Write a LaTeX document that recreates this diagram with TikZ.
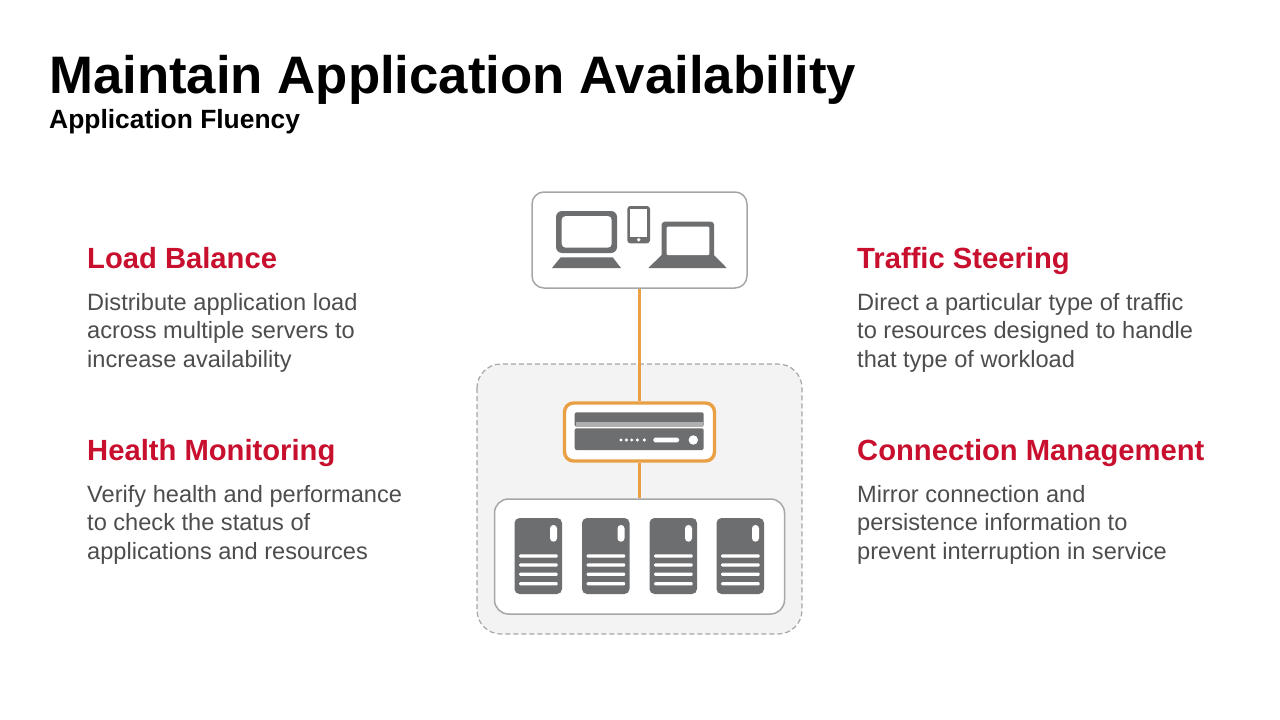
\documentclass[tikz,border=0pt]{standalone}
\usepackage{fontspec}
\setmainfont{Liberation Sans}
\definecolor{headred}{HTML}{C8102E}
\definecolor{bodygray}{HTML}{4D4D4D}
\definecolor{icongray}{HTML}{6D6E70}
\definecolor{edgegray}{HTML}{A6A6A6}
\definecolor{bandgray}{HTML}{B0B0B0}
\definecolor{linkorange}{HTML}{E9A044}
\definecolor{panelgray}{HTML}{F3F3F3}
\tikzset{
  title/.style={anchor=base west,inner sep=0pt,font=\fontsize{52.75}{54}\selectfont\bfseries,text=black},
  subtitle/.style={anchor=base west,inner sep=0pt,font=\fontsize{26.4}{26}\selectfont\bfseries,text=black},
  headline/.style={anchor=base west,inner sep=0pt,font=\fontsize{29.2}{29}\selectfont\bfseries,text=headred},
  bodytext/.style={anchor=north west,inner sep=0pt,align=left,text=bodygray,font=\fontsize{23.6}{28.6}\selectfont},
  whitebox/.style={draw=edgegray,line width=1.5pt,fill=white,rounded corners=12pt},
  link/.style={draw=linkorange,line width=3.2pt},
  icon/.style={fill=icongray,draw=none}
}
\begin{document}
\begin{tikzpicture}[x=1pt,y=-1pt]
\useasboundingbox (0,0) rectangle (1280,720);
\fill[white] (0,0) rectangle (1280,720);
\node[title] (ttl) at (49,93) {Maintain Application Availability};
\node[subtitle] (sub) at (49,128) {Application Fluency};

\node[headline] (h1) at (87,268) {Load Balance};
\node[bodytext] (b1) at (87,293) {Distribute application load\\across multiple servers to\\increase availability};
\node[headline] (h2) at (87,460) {Health Monitoring};
\node[bodytext] (b2) at (87,485) {Verify health and performance\\to check the status of\\applications and resources};
\node[headline] (h3) at (857,268) {Traffic Steering};
\node[bodytext] (b3) at (857,293) {Direct a particular type of traffic\\to resources designed to handle\\that type of workload};
\node[headline] (h4) at (857,460) {Connection Management};
\node[bodytext] (b4) at (857,485) {Mirror connection and\\persistence information to\\prevent interruption in service};

% panel
\draw[draw=edgegray,line width=1.2pt,dash pattern=on 5pt off 3pt,fill=panelgray,rounded corners=24pt] (477,364) rectangle (802,634);

% boxes
\node[whitebox,minimum width=215pt,minimum height=96pt,inner sep=0pt] (clients) at (639.5,240) {};
\node[whitebox,rounded corners=14pt,minimum width=290pt,minimum height=115pt,inner sep=0pt] (servers) at (639.5,556.5) {};
\node[draw=linkorange,line width=3.4pt,fill=white,rounded corners=9pt,minimum width=150pt,minimum height=58pt,inner sep=0pt] (adc) at (639.5,432) {};
\draw[link] (clients) -- (adc);
\draw[link] (adc) -- (servers);

% desktop
\fill[icon,rounded corners=6pt] (556,211) rectangle (617,253);
\fill[white,rounded corners=4pt] (561.7,216) rectangle (611.7,247.7);
\fill[icon] (560.7,257.3) -- (612.7,257.3) -- (621,268) -- (552,268) -- cycle;
% phone
\fill[icon,rounded corners=3pt] (627.3,206) rectangle (650,243.3);
\fill[white] (630.3,209.3) rectangle (647,236.7);
\fill[white] (638.7,239.8) circle (1.9pt);
% laptop
\fill[icon,rounded corners=3pt] (661.7,221.7) rectangle (714,258);
\fill[icon] (661.7,255) -- (714,255) -- (726.7,268) -- (648.3,268) -- cycle;
\fill[white,rounded corners=1pt] (666.7,226.7) rectangle (709.3,255);

% appliance
\fill[icon,rounded corners=2pt] (574.7,412.3) rectangle (703.7,426.7);
\fill[bandgray] (575.7,422.3) rectangle (702.7,426.7);
\fill[icon,rounded corners=2pt] (574.7,428.3) rectangle (703.7,450);
\foreach \x in {621,626.3,631.7,637.3,644.3}{\fill[white] (\x,440) circle (1.7pt);}
\fill[white,rounded corners=1.5pt] (653.3,437.7) rectangle (679,442.3);
\fill[white] (693.3,440) circle (4.7pt);

% server units
\foreach \x in {514.5,582,649.5,716.5}{
  \fill[icon,rounded corners=5pt] (\x,518) rectangle ++(47.5,76);
  \fill[white,rounded corners=3.4pt] (\x+35.5,525) rectangle ++(7,16.7);
  \foreach \y in {556,565,574.3,583.7}{
    \fill[white,rounded corners=1pt] (\x+4.7,\y-1.6) rectangle ++(38.5,3.2);
  }
}
\end{tikzpicture}
\end{document}
